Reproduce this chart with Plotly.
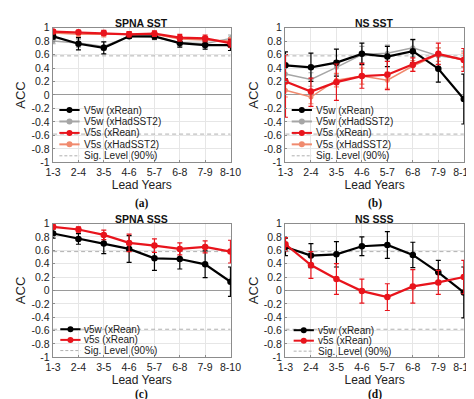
import plotly.graph_objects as go

# ---------------- data ----------------
lead_years = ["1-3", "2-4", "3-5", "4-6", "5-7", "6-8", "7-9", "8-10"]
y_tick_vals = [1, 0.8, 0.6, 0.4, 0.2, 0, -0.2, -0.4, -0.6, -0.8, -1]
y_tick_text = ["1", "0.8", "0.6", "0.4", "0.2", "0", "-0.2", "-0.4", "-0.6", "-0.8", "-1"]
sig_level = 0.58

panel_titles = ["SPNA SST", "NS SST", "SPNA SSS", "NS SSS"]
panel_tags = ["(a)", "(b)", "(c)", "(d)"]

# (a) SPNA SST
a_v5w_rean = [0.87, 0.76, 0.70, 0.87, 0.87, 0.77, 0.74, 0.74]
a_v5w_rean_err = [0.04, 0.09, 0.09, 0.03, 0.04, 0.06, 0.06, 0.08]
a_v5w_had = [0.80, 0.77, 0.72, 0.87, 0.86, 0.78, 0.76, 0.84]
a_v5w_had_err = [0.04, 0.06, 0.06, 0.03, 0.04, 0.05, 0.05, 0.05]
a_v5s_rean = [0.94, 0.93, 0.92, 0.90, 0.91, 0.85, 0.84, 0.77]
a_v5s_rean_err = [0.03, 0.03, 0.04, 0.04, 0.04, 0.05, 0.05, 0.06]
a_v5s_had = [0.92, 0.90, 0.90, 0.90, 0.90, 0.83, 0.82, 0.80]
a_v5s_had_err = [0.03, 0.03, 0.04, 0.04, 0.04, 0.04, 0.04, 0.05]

# (b) NS SST
b_v5w_rean = [0.44, 0.41, 0.48, 0.61, 0.57, 0.65, 0.39, -0.06]
b_v5w_rean_err = [0.20, 0.21, 0.20, 0.16, 0.15, 0.17, 0.20, 0.37]
b_v5w_had = [0.31, 0.23, 0.41, 0.60, 0.62, 0.70, 0.58, 0.53]
b_v5w_had_err = [0.10, 0.10, 0.10, 0.12, 0.12, 0.13, 0.12, 0.12]
b_v5s_rean = [0.20, 0.05, 0.19, 0.28, 0.30, 0.45, 0.61, 0.52]
b_v5s_rean_err_up = [0.40, 0.20, 0.27, 0.19, 0.20, 0.10, 0.16, 0.17]
b_v5s_rean_err_dn = [0.53, 0.22, 0.27, 0.18, 0.22, 0.10, 0.16, 0.17]
b_v5s_had = [0.07, -0.03, 0.22, 0.28, 0.22, 0.43, 0.60, 0.52]
b_v5s_had_err = [0.10, 0.10, 0.10, 0.12, 0.12, 0.08, 0.10, 0.10]

# (c) SPNA SSS
c_v5w_rean = [0.85, 0.77, 0.70, 0.62, 0.48, 0.47, 0.39, 0.13]
c_v5w_rean_err = [0.07, 0.08, 0.15, 0.20, 0.18, 0.15, 0.20, 0.22]
c_v5s_rean = [0.95, 0.91, 0.83, 0.71, 0.67, 0.62, 0.65, 0.58]
c_v5s_rean_err = [0.03, 0.04, 0.07, 0.13, 0.10, 0.09, 0.09, 0.17]

# (d) NS SSS
d_v5w_rean = [0.65, 0.52, 0.54, 0.66, 0.68, 0.53, 0.27, -0.03]
d_v5w_rean_err = [0.13, 0.18, 0.19, 0.14, 0.20, 0.19, 0.18, 0.38]
d_v5s_rean = [0.69, 0.38, 0.17, -0.01, -0.10, 0.06, 0.12, 0.20]
d_v5s_rean_err = [0.10, 0.20, 0.23, 0.18, 0.20, 0.25, 0.18, 0.25]

# ---------------- styling ----------------
W, H = 474, 399
BLACK = "#000000"
GRAY = "#a6a6a6"
RED = "#e8141c"
SALMON = "#f08a6e"
SIG = "#b0b0b0"
FONT = "Liberation Sans, Arial, sans-serif"

# panel boxes in pixels: (left, right, top, bottom)
boxes = [(39, 224, 14, 153), (280, 466, 14, 153), (39, 224, 216, 354), (280, 466, 216, 354)]
tag_y = [195, 195, 392, 392]

fig = go.Figure()


def px2paper_x(px):
    return px / W


def px2paper_y(py):
    return 1 - py / H


def add_series(idx, y, color, err_up, err_dn=None, width=2.2, size=6.5):
    xa = "x" if idx == 0 else f"x{idx + 1}"
    ya = "y" if idx == 0 else f"y{idx + 1}"
    ey = dict(type="data", array=err_up, color=color, thickness=1.2, width=2.5, visible=True)
    if err_dn is not None:
        ey["symmetric"] = False
        ey["arrayminus"] = err_dn
    fig.add_trace(go.Scatter(
        x=lead_years, y=y, xaxis=xa, yaxis=ya, mode="lines+markers",
        line=dict(color=color, width=width),
        marker=dict(color=color, size=size, symbol="circle"),
        error_y=ey, showlegend=False, hoverinfo="skip"))


def add_sig(idx):
    xa = "x" if idx == 0 else f"x{idx + 1}"
    ya = "y" if idx == 0 else f"y{idx + 1}"
    xs = lead_years + [None] + lead_years
    ys = [sig_level] * len(lead_years) + [None] + [-sig_level] * len(lead_years)
    fig.add_trace(go.Scatter(
        x=xs, y=ys, xaxis=xa, yaxis=ya, mode="lines",
        line=dict(color=SIG, width=1, dash="4px,3px"),
        showlegend=False, hoverinfo="skip"))


# draw panels
for i in range(4):
    add_sig(i)

add_series(0, a_v5w_had, GRAY, a_v5w_had_err, width=1.5, size=5)
add_series(0, a_v5s_had, SALMON, a_v5s_had_err, width=1.5, size=5)
add_series(0, a_v5w_rean, BLACK, a_v5w_rean_err)
add_series(0, a_v5s_rean, RED, a_v5s_rean_err)

add_series(1, b_v5w_had, GRAY, b_v5w_had_err, width=1.5, size=5)
add_series(1, b_v5s_had, SALMON, b_v5s_had_err, width=1.5, size=5)
add_series(1, b_v5w_rean, BLACK, b_v5w_rean_err)
add_series(1, b_v5s_rean, RED, b_v5s_rean_err_up, b_v5s_rean_err_dn)

add_series(2, c_v5w_rean, BLACK, c_v5w_rean_err)
add_series(2, c_v5s_rean, RED, c_v5s_rean_err)

add_series(3, d_v5w_rean, BLACK, d_v5w_rean_err)
add_series(3, d_v5s_rean, RED, d_v5s_rean_err)

layout = dict(
    width=W, height=H, autosize=False,
    margin=dict(l=0, r=0, t=0, b=0),
    paper_bgcolor="white", plot_bgcolor="white",
    font=dict(family=FONT, size=10, color="#222222"),
    showlegend=False,
)

annotations = []
shapes = []
for i, (l, r, t, b) in enumerate(boxes):
    sx = "" if i == 0 else str(i + 1)
    layout["xaxis" + sx] = dict(
        domain=[px2paper_x(l), px2paper_x(r)], anchor="y" + sx,
        type="category", range=[-0.02, 7.02],
        showgrid=True, gridcolor="#e6e6e6", gridwidth=1,
        showline=True, linecolor="#8c8c8c", linewidth=1, mirror=True,
        ticks="inside", ticklen=2, tickcolor="#8c8c8c",
        tickfont=dict(size=10.5, family=FONT, color="#222222"),
        title=dict(text="Lead Years", font=dict(size=12, family=FONT, color="#222222"), standoff=2),
        zeroline=False,
    )
    layout["yaxis" + sx] = dict(
        domain=[px2paper_y(b), px2paper_y(t)], anchor="x" + sx,
        range=[-1, 1], tickvals=y_tick_vals, ticktext=y_tick_text,
        showgrid=True, gridcolor="#e6e6e6", gridwidth=1,
        showline=True, linecolor="#8c8c8c", linewidth=1, mirror=True,
        ticks="inside", ticklen=2, tickcolor="#8c8c8c",
        tickfont=dict(size=10.5, family=FONT, color="#222222"),
        title=dict(text="ACC", font=dict(size=13, family=FONT, color="#222222"), standoff=2),
        zeroline=True, zerolinecolor="#9a9a9a", zerolinewidth=1,
    )
    cx = (l + r) / 2
    annotations.append(dict(
        text="<b>" + panel_titles[i] + "</b>", x=px2paper_x(cx), y=px2paper_y(t - 5),
        xref="paper", yref="paper", showarrow=False, xanchor="center", yanchor="middle",
        font=dict(size=10.5, family=FONT, color="#111111")))
    annotations.append(dict(
        text="<b>" + panel_tags[i] + "</b>", x=px2paper_x(cx), y=px2paper_y(tag_y[i]),
        xref="paper", yref="paper", showarrow=False, xanchor="center", yanchor="middle",
        font=dict(size=11.5, family="Liberation Serif, Times New Roman, serif", color="#111111")))

# ---------------- manual legends ----------------
legend_sst = [("V5w (xRean)", BLACK, "solid", True),
              ("V5w (xHadSST2)", GRAY, "solid", True),
              ("V5s (xRean)", RED, "solid", True),
              ("V5s (xHadSST2)", SALMON, "solid", True),
              ("Sig. Level (90%)", SIG, "dash", False)]
legend_sss = [("v5w (xRean)", BLACK, "solid", True),
              ("v5s (xRean)", RED, "solid", True),
              ("Sig. Level (90%)", SIG, "dash", False)]


def add_legend(x_line, y_first, entries, step=11.8):
    for k, (label, color, dash, has_marker) in enumerate(entries):
        yy = y_first + k * step
        shapes.append(dict(type="line", xref="paper", yref="paper",
                           x0=px2paper_x(x_line), x1=px2paper_x(x_line + 21),
                           y0=px2paper_y(yy), y1=px2paper_y(yy),
                           line=dict(color=color, width=2 if has_marker else 1,
                                     dash="solid" if dash == "solid" else "3px,2px")))
        if has_marker:
            shapes.append(dict(type="circle", xref="paper", yref="paper",
                               xsizemode="pixel", ysizemode="pixel",
                               xanchor=px2paper_x(x_line + 10.5), yanchor=px2paper_y(yy),
                               x0=-3, x1=3, y0=-3, y1=3,
                               fillcolor=color, line=dict(color=color, width=0)))
        annotations.append(dict(
            text=label, x=px2paper_x(x_line + 23), y=px2paper_y(yy),
            xref="paper", yref="paper", showarrow=False, xanchor="left", yanchor="middle",
            font=dict(size=10, family=FONT, color="#222222")))


add_legend(46, 99, legend_sst)
add_legend(287, 99, legend_sst)
add_legend(47, 325, legend_sss, step=11)
add_legend(289, 326, legend_sss, step=10.8)

layout["annotations"] = annotations
layout["shapes"] = shapes
fig.update_layout(**layout)

fig.write_html("out.html")
